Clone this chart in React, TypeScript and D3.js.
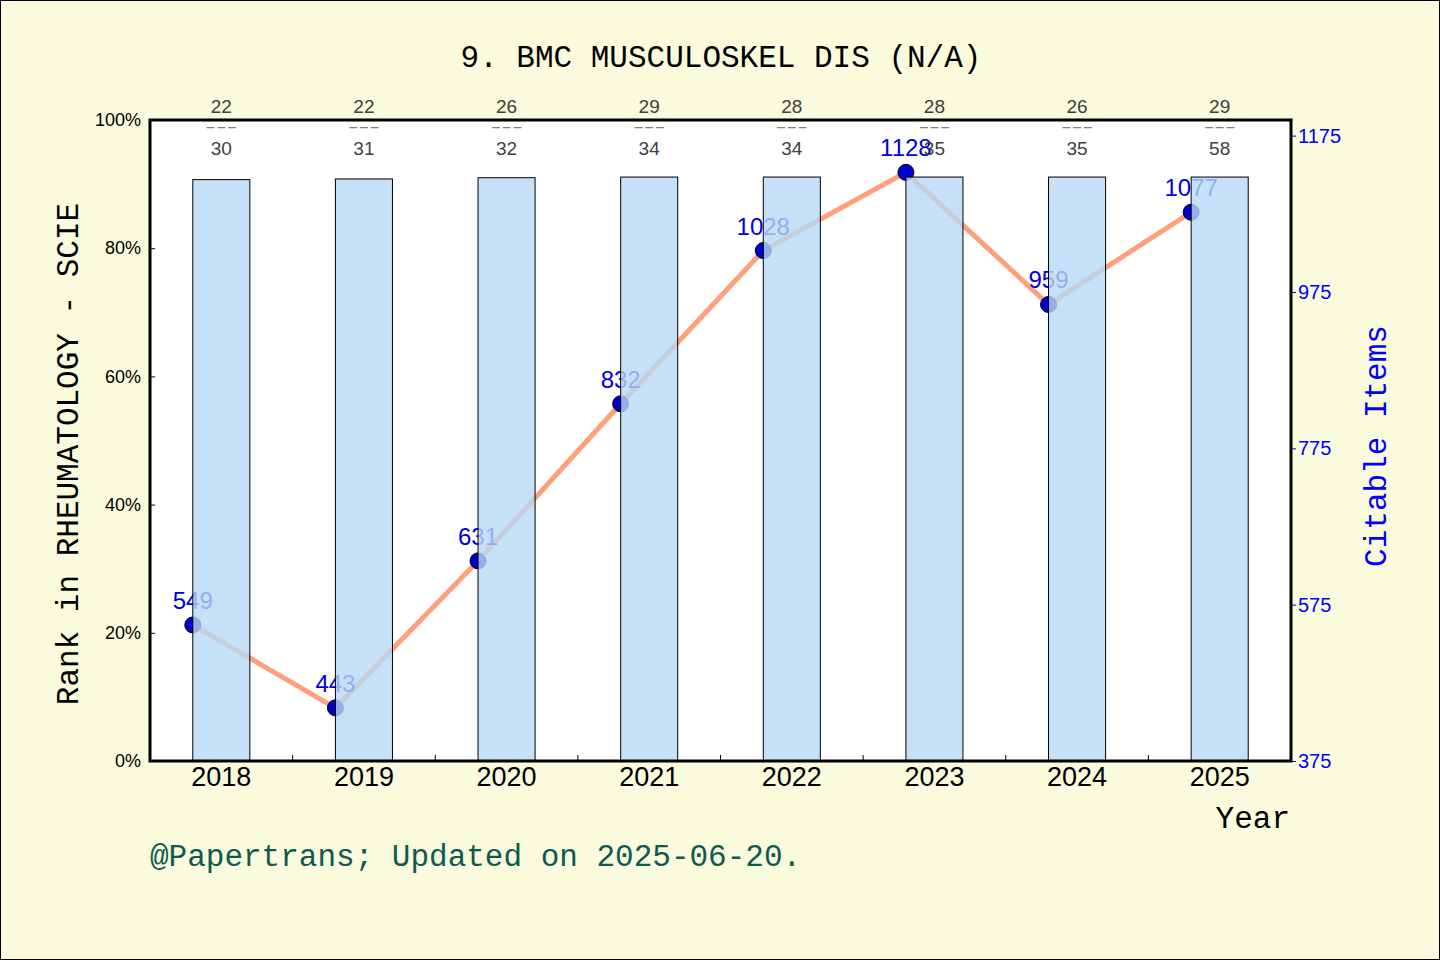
import React, { useEffect, useRef } from 'react'
import * as d3 from 'd3'

const years = ['2018', '2019', '2020', '2021', '2022', '2023', '2024', '2025']
const barPercent = [90.7, 90.8, 91.0, 91.1, 91.1, 91.1, 91.1, 91.1]
const citableItems = [549, 443, 631, 832, 1028, 1128, 959, 1077]
const rankTop = [22, 22, 26, 29, 28, 28, 26, 29]
const rankBottom = [30, 31, 32, 34, 34, 35, 35, 58]
const leftTicks = [0, 20, 40, 60, 80, 100]
const rightTicks = [375, 575, 775, 975, 1175]

const MONO = '"Liberation Mono", "DejaVu Sans Mono", monospace'
const SANS = '"Liberation Sans", Arial, sans-serif'

export default function App() {
  const svgRef = useRef<SVGSVGElement>(null)

  useEffect(() => {
    if (!svgRef.current) return
    const root = d3.select(svgRef.current)
    root.selectAll('*').remove()

    const W = 1440
    const H = 960
    const margin = { top: 120, right: 149, bottom: 199, left: 150 }
    const width = W - margin.left - margin.right
    const height = H - margin.top - margin.bottom

    root.attr('width', W).attr('height', H)

    root.append('rect')
      .attr('x', 0.5).attr('y', 0.5)
      .attr('width', W - 1).attr('height', H - 1)
      .attr('fill', '#FAFADC')
      .attr('stroke', '#000')

    const g = root.append('g').attr('transform', `translate(${margin.left},${margin.top})`)

    g.append('rect')
      .attr('width', width).attr('height', height)
      .attr('fill', '#fff')

    const x = d3.scaleBand().domain(years).range([0, width])
    const yLeft = d3.scaleLinear().domain([0, 100]).range([height, 0])
    const yRight = d3.scaleLinear().domain([375, 1195]).range([height, 0])
    const bw = x.bandwidth() * 0.4

    // left axis (inward ticks)
    const leftAxis = g.append('g')
      .call(d3.axisLeft(yLeft).tickValues(leftTicks).tickSize(-5).tickPadding(9).tickFormat(d => `${d}%`))
    leftAxis.selectAll('text').style('font-family', SANS).style('font-size', '18px').attr('fill', '#000')
    leftAxis.selectAll('.tick line').attr('stroke', '#000')
    leftAxis.select('.domain').remove()

    // right axis
    const rightAxis = g.append('g')
      .attr('transform', `translate(${width},0)`)
      .call(d3.axisRight(yRight).tickValues(rightTicks).tickSize(5).tickPadding(2).tickFormat(d3.format('d')))
    rightAxis.selectAll('text').style('font-family', SANS).style('font-size', '20px').attr('fill', '#0000FF')
    rightAxis.selectAll('.tick line').attr('stroke', '#0000FF')
    rightAxis.select('.domain').remove()

    // bottom axis: labels at band centres, minor ticks at boundaries
    const bottomAxis = g.append('g')
      .attr('transform', `translate(0,${height})`)
      .call(d3.axisBottom(x).tickSize(0).tickPadding(6))
    bottomAxis.selectAll('text').style('font-family', SANS).style('font-size', '27px').attr('fill', '#000')
    bottomAxis.select('.domain').remove()
    g.selectAll('.minor')
      .data(years.slice(1))
      .enter().append('line')
      .attr('x1', d => x(d) || 0).attr('x2', d => x(d) || 0)
      .attr('y1', height).attr('y2', height - 6)
      .attr('stroke', '#000')

    const px = (d: string) => (x(d) || 0) + x.bandwidth() / 2 - bw / 2
    const pts = years.map((d, i) => ({ year: d, value: citableItems[i] }))

    // line
    const line = d3.line<{ year: string; value: number }>()
      .x(d => px(d.year))
      .y(d => yRight(d.value))
    g.append('path')
      .datum(pts)
      .attr('fill', 'none')
      .attr('stroke', '#FFA07A')
      .attr('stroke-width', 5)
      .attr('d', line)

    g.selectAll('.dot')
      .data(pts)
      .enter().append('circle')
      .attr('cx', d => px(d.year))
      .attr('cy', d => yRight(d.value))
      .attr('r', 8)
      .attr('fill', '#0000CD')
      .attr('stroke', '#000')
      .attr('stroke-width', 1)

    g.selectAll('.val')
      .data(pts)
      .enter().append('text')
      .attr('x', d => px(d.year))
      .attr('y', d => yRight(d.value) - 16)
      .attr('text-anchor', 'middle')
      .attr('fill', '#0000DD')
      .style('font-family', SANS)
      .style('font-size', '24px')
      .text(d => d.value)

    // bars drawn on top, semi transparent
    g.selectAll('.bar')
      .data(years)
      .enter().append('rect')
      .attr('x', d => (x(d) || 0) + x.bandwidth() / 2 - bw / 2)
      .attr('width', bw)
      .attr('y', (d, i) => yLeft(barPercent[i]))
      .attr('height', (d, i) => height - yLeft(barPercent[i]))
      .attr('fill', 'rgba(184,216,245,0.8)')
      .attr('stroke', '#000')
      .attr('stroke-width', 1)

    // rank fractions above the bars
    const cx = (d: string) => (x(d) || 0) + x.bandwidth() / 2
    g.selectAll('.rtop')
      .data(years)
      .enter().append('text')
      .attr('x', d => cx(d)).attr('y', -7)
      .attr('text-anchor', 'middle')
      .attr('fill', '#404040')
      .style('font-family', SANS).style('font-size', '19px')
      .text((d, i) => rankTop[i])
    g.selectAll('.rdash')
      .data(years)
      .enter().append('text')
      .attr('x', d => cx(d) - 16).attr('y', 12)
      .attr('textLength', 32)
      .attr('lengthAdjust', 'spacingAndGlyphs')
      .attr('fill', '#808080')
      .style('font-family', SANS).style('font-size', '16px')
      .text('---')
    g.selectAll('.rbot')
      .data(years)
      .enter().append('text')
      .attr('x', d => cx(d)).attr('y', 35)
      .attr('text-anchor', 'middle')
      .attr('fill', '#404040')
      .style('font-family', SANS).style('font-size', '19px')
      .text((d, i) => rankBottom[i])

    // frame
    g.append('rect')
      .attr('width', width).attr('height', height)
      .attr('fill', 'none')
      .attr('stroke', '#000')
      .attr('stroke-width', 3)

    // titles
    root.append('text')
      .attr('x', 721).attr('y', 67)
      .attr('text-anchor', 'middle')
      .attr('fill', '#000')
      .style('font-family', MONO).style('font-size', '31px')
      .text('9. BMC MUSCULOSKEL DIS (N/A)')

    root.append('text')
      .attr('transform', 'translate(78,454) rotate(-90)')
      .attr('text-anchor', 'middle')
      .attr('fill', '#000')
      .style('font-family', MONO).style('font-size', '31px')
      .text('Rank in RHEUMATOLOGY - SCIE')

    root.append('text')
      .attr('transform', 'translate(1386,446) rotate(-90)')
      .attr('text-anchor', 'middle')
      .attr('fill', '#0000FF')
      .style('font-family', MONO).style('font-size', '31px')
      .text('Citable Items')

    root.append('text')
      .attr('x', 1290).attr('y', 828)
      .attr('text-anchor', 'end')
      .attr('fill', '#000')
      .style('font-family', MONO).style('font-size', '31px')
      .text('Year')

    root.append('text')
      .attr('x', 150).attr('y', 866)
      .attr('fill', '#0E5A50')
      .style('font-family', MONO).style('font-size', '31px')
      .text('@Papertrans; Updated on 2025-06-20.')
  }, [])

  return (
    <div style={{ position: 'fixed', left: 0, top: 0, width: 1440, height: 960 }}>
      <svg ref={svgRef} style={{ display: 'block' }}></svg>
    </div>
  )
}
